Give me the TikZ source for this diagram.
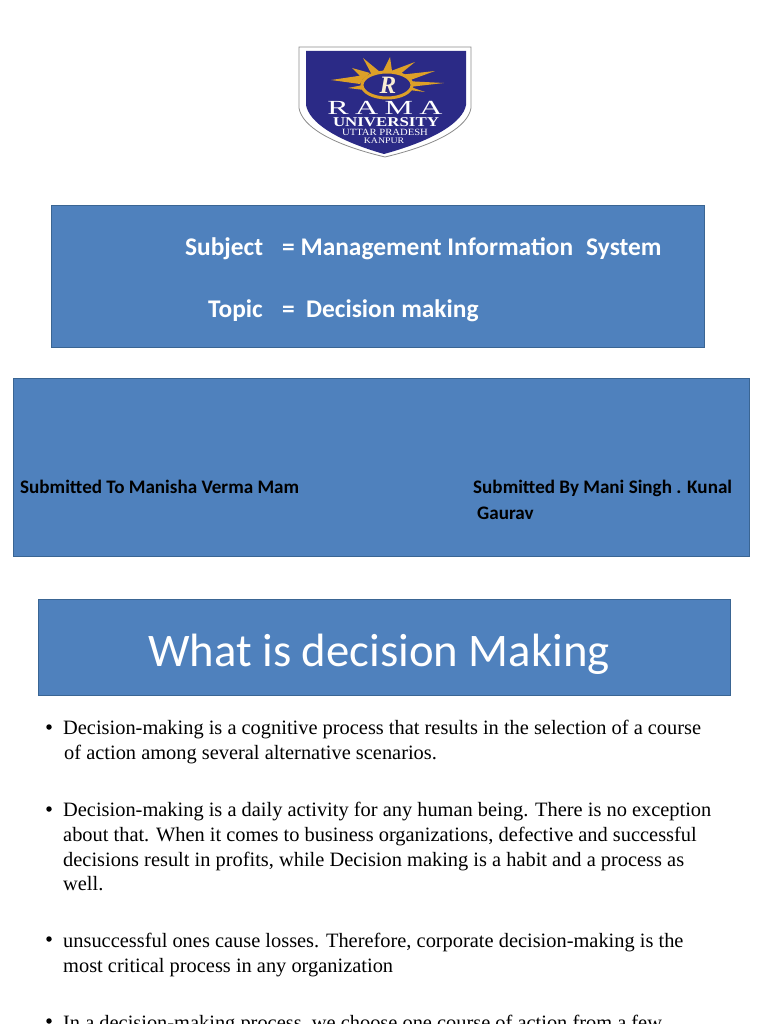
\documentclass[tikz,border=0pt]{standalone}
\usepackage{fontspec}
\setmainfont{Liberation Serif}
\newfontfamily\calf{Carlito}
\newfontfamily\lser{Liberation Serif}
\definecolor{boxblue}{HTML}{4F81BD}
\definecolor{boxedge}{HTML}{3A6593}
\definecolor{shieldblue}{HTML}{2B2A86}
\definecolor{sungold}{HTML}{DDA028}
\tikzset{
  panel/.style={draw=boxedge,line width=1.4pt,fill=boxblue,anchor=north west,inner sep=0pt,minimum width=#1},
  subj/.style={anchor=base west,inner sep=0pt,text=white,font=\calf\bfseries\fontsize{25.4}{25.4}\selectfont},
  sub/.style={anchor=base west,inner sep=0pt,text=black,font=\calf\bfseries\fontsize{19.1}{19.1}\selectfont},
  body/.style={anchor=base west,inner sep=0pt,text=black,font=\lser\fontsize{20.4}{20.4}\selectfont},
  bul/.style={circle,fill=black,inner sep=0pt,minimum size=5.5pt},
  logotxt/.style={anchor=base,inner sep=0pt,text=white,text depth=0pt}
}
\begin{document}
\begin{tikzpicture}[x=1pt,y=-1pt]
\clip (0,0) rectangle (768,1024);
\fill[white] (0,0) rectangle (768,1024);
% logo
\draw[draw=black!45,fill=white,line width=.8pt] (299,47) -- (471,47) -- (471,108) .. controls (468,126) and (440,144) .. (385,157) .. controls (330,144) and (302,126) .. (299,108) -- cycle;
\fill[shieldblue] (306,51) -- (466,51) -- (466,105) .. controls (463,122) and (435,140) .. (384,154) .. controls (335,140) and (309,122) .. (306,105) -- cycle;
\fill[sungold]
  (331,80) -- (365,75) -- (360,84) -- cycle
  (352,68) -- (370,73) -- (363,79) -- cycle
  (363,58) -- (380,72) -- (372,75) -- cycle
  (390,57) -- (392,71) -- (383,71) -- cycle
  (415,62) -- (399,75) -- (391,71) -- cycle
  (435,71) -- (405,82) -- (399,75) -- cycle
  (444,83) -- (409,87) -- (405,81) -- cycle
  (425,92) -- (409,90) -- (405,85) -- cycle
  (348,88) -- (363,85) -- (364,90) -- cycle;
\draw[sungold,fill=shieldblue,line width=3pt] (387,85) ellipse (25pt and 13pt);
\node[anchor=base,inner sep=0pt,text=white!80!sungold,font=\lser\itshape\bfseries\fontsize{25}{25}\selectfont] (logoR) at (388,94) {R};
\node[logotxt,xscale=1.6,text height=12pt,font=\lser\fontsize{20}{20}\selectfont] (logoA) at (385,115) {R\hspace{4pt}A\hspace{4pt}M\hspace{4pt}A};
\node[logotxt,xscale=1.25,text height=9pt,font=\lser\bfseries\fontsize{13.5}{13.5}\selectfont] (logoB) at (386,127) {UNIVERSITY};
\node[logotxt,xscale=1.12,text height=6.5pt,font=\lser\fontsize{9.5}{9.5}\selectfont] (logoC) at (385,136) {UTTAR PRADESH};
\node[logotxt,xscale=1.15,text height=6pt,font=\lser\fontsize{8.5}{8.5}\selectfont] (logoD) at (384,143.5) {KANPUR};
% panels
\node[panel=653pt,minimum height=142pt] (p1) at (51,205) {};
\node[panel=736pt,minimum height=178pt] (p2) at (13,378) {};
\node[panel=692pt,minimum height=96pt] (p3) at (38,599) {};
\node[subj] (s1) at (185,255) {Subject};
\node[subj] (s2) at (282,255) {= Management Information};
\node[subj] (s3) at (586,255) {System};
\node[subj] (t1) at (208,317) {Topic};
\node[subj] (t2) at (282,317) {=};
\node[subj] (t3) at (306,317) {Decision making};
\node[sub] (a) at (20,493) {Submitted To Manisha Verma Mam};
\node[sub] (b) at (473,493) {Submitted By Mani Singh . Kunal};
\node[sub] (c) at (477,519) {Gaurav};
\node[anchor=base,inner sep=0pt,text=white,font=\calf\fontsize{46.7}{46.7}\selectfont] (h) at (379,666) {What is decision Making};
% body
\node[bul] (b1) at (49,727) {};
\node[body] (l1) at (63,734) {Decision-making is a cognitive process that results in the selection of a course};
\node[body] (l2) at (64,759) {of action among several alternative scenarios.};
\node[bul] (b2) at (49,809) {};
\node[body] (l3) at (63,816) {Decision-making is a daily activity for any human being. There is no exception};
\node[body] (l4) at (63,841) {about that. When it comes to business organizations, defective and successful};
\node[body] (l5) at (63,866) {decisions result in profits, while Decision making is a habit and a process as};
\node[body] (l6) at (63,890) {well.};
\node[bul] (b3) at (49,939) {};
\node[body] (l7) at (63,947) {unsuccessful ones cause losses. Therefore, corporate decision-making is the};
\node[body] (l8) at (63,972) {most critical process in any organization};
\node[bul] (b4) at (49,1021) {};
\node[body] (l9) at (63,1029) {In a decision-making process, we choose one course of action from a few};
\end{tikzpicture}
\end{document}
